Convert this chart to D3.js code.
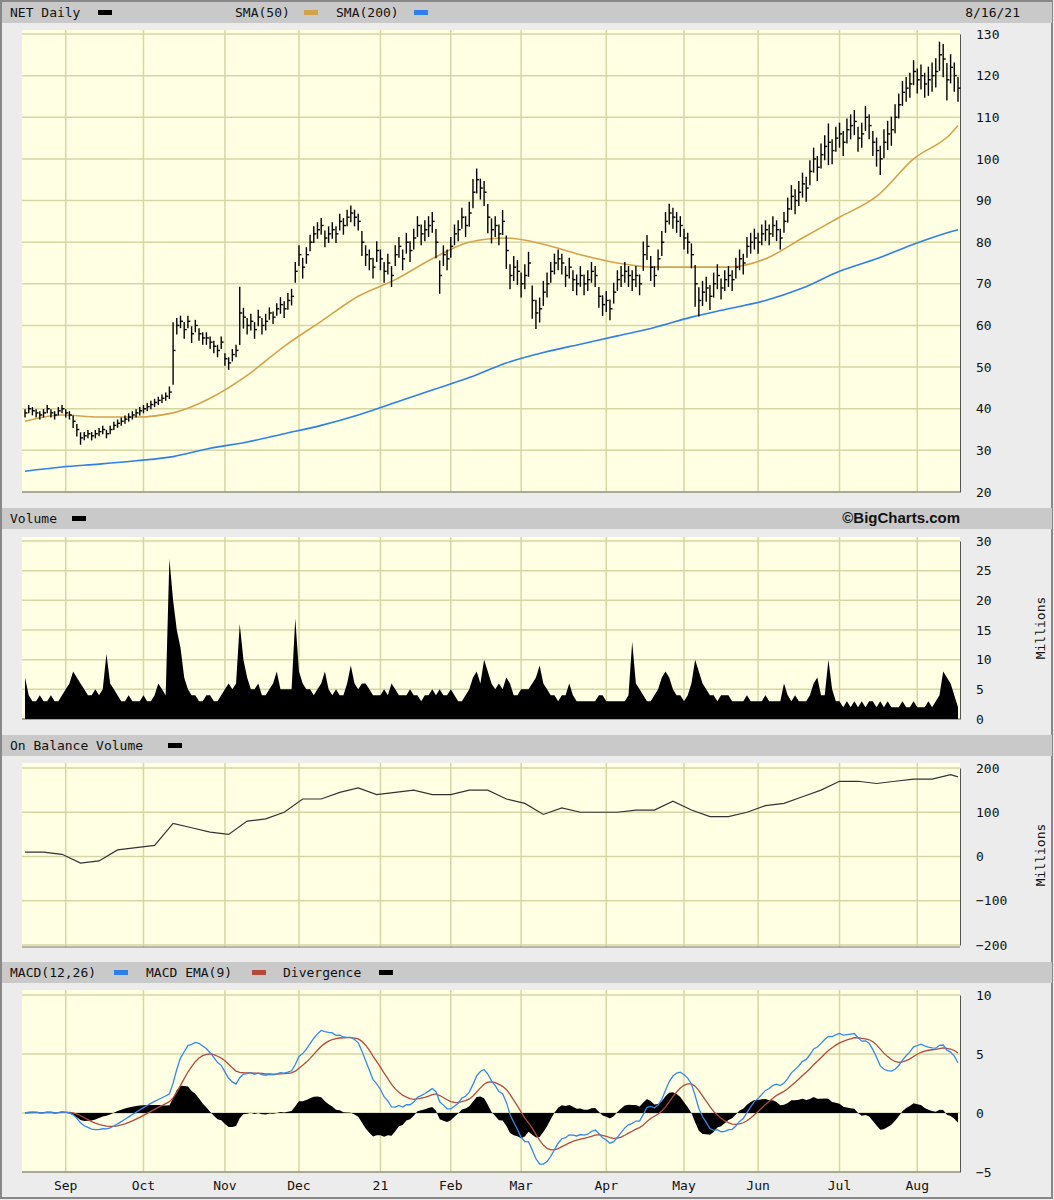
<!DOCTYPE html>
<html><head><meta charset="utf-8">
<script src="https://cdn.jsdelivr.net/npm/d3@7"></script>
<style>body{margin:0;background:#fff}text{font-family:"DejaVu Sans Mono",monospace;font-size:13px;fill:#111}</style>
</head><body><svg id="c" width="1054" height="1200"></svg>
<script>
const closes=[39,40,39.5,39,38.5,39,40,39,38.5,39.5,
40,39,38.5,37,35,33,33.5,34,33.5,34,
34.5,35,34,35,36,36.5,37,37.5,38,38.5,
39,39.5,40,40.5,41,41.5,42,42.5,43,44,
54,60,61,59,61,58,60,58,57,57,
56,55,54,56,52,51,53,54,63,62,
60,61,59,62,60,61,63,62,64,65,
64,66,67,73,77,74,77,80,82,83,
84,81,82,83,82,85,84,86,87,86,
85,80,77,76,74,78,76,73,75,72,
77,79,76,80,78,81,84,82,83,84,
85,80,72,77,76,79,82,83,86,84,
87,92,95,93,92,86,83,84,82,85,
78,72,74,73,70,72,75,66,63,64,
68,70,73,75,76,75,72,74,71,70,
72,70,71,73,72,67,65,66,64,68,
71,72,73,72,71,72,70,77,79,74,
72,76,80,85,87,86,85,84,81,80,
77,70,66,68,69,67,70,72,69,71,
72,71,74,76,75,79,80,81,80,82,
83,82,84,83,81,85,88,91,90,92,
94,93,97,100,98,101,103,104,102,105,
106,104,107,108,109,105,106,110,108,104,
102,100,104,106,107,110,113,116,117,118,
121,119,120,118,119,120,121,125,124,119,
122,120,117];
const ranges=[2,2,2,2,2,2,2,2,2,2, 2,2,2,3,3,3,2,2,2,2, 2,2,2,2,2,2,2,2,2,2, 2,2,2,2,2,2,2,2,2,3,
15,4,3,4,3,4,3,3,3,3, 3,3,3,3,3,3,3,3,14,5, 4,4,4,4,4,4,3,3,3,4, 4,4,4,5,5,5,4,4,4,4,
4,4,4,4,4,4,4,4,4,4, 4,6,5,5,5,5,5,5,5,5, 5,5,5,5,5,5,5,5,5,5, 5,7,8,5,5,5,5,5,5,5,
6,7,6,5,6,7,6,5,5,6, 8,6,6,6,6,6,6,8,7,6, 6,6,5,5,5,5,5,5,5,5, 5,5,5,5,5,5,5,5,5,5,
5,5,5,5,5,5,5,7,6,6, 5,5,6,5,5,5,5,5,5,5, 6,10,7,6,6,6,6,6,5,5, 5,5,5,5,5,5,5,5,5,5,
5,5,5,5,5,5,6,6,6,6, 6,6,6,6,6,6,6,10,6,6, 6,6,6,6,6,6,6,6,6,6, 7,7,7,7,7,7,6,6,6,6,
6,6,6,6,7,7,7,7,8,9, 7,7,6];
const volumes=[7,4,3,3,4,3,3,4,3,3, 4,5,6,8,7,6,5,4,4,5, 4,5,11,6,5,4,3,3,4,3, 3,3,4,3,3,4,6,5,4,27,
20,15,12,7,5,4,4,3,3,4, 4,3,3,4,5,6,5,6,16,10, 7,5,5,6,4,4,5,6,8,5, 5,5,5,17,8,6,5,5,4,5,
6,8,5,4,5,4,4,6,9,6, 5,6,6,5,4,4,4,5,4,6, 5,4,4,4,5,4,4,3,4,4, 5,4,5,4,4,5,4,3,3,4,
5,7,8,6,10,8,6,5,6,5, 7,6,4,4,5,5,5,6,7,9, 6,5,4,4,3,4,4,6,4,3, 3,3,3,3,3,4,4,3,3,3,
3,3,3,4,13,6,5,4,3,3, 4,5,7,8,7,5,4,4,3,4, 6,10,8,6,5,4,4,3,4,4, 4,3,3,3,3,4,3,3,3,3,
4,3,3,3,3,6,4,3,4,3, 3,3,4,6,7,4,4,10,5,3, 3,2,3,2,3,2,3,2,3,3, 2,3,2,3,2,2,2,3,2,2,
3,2,2,2,3,2,3,4,8,7, 6,4,2];
// sampled every 5 trading days (last = final day)
const obv=[10,10,5,-15,-10,15,20,25,75,65,55,50,80,85,100,130,130,145,155,140,145,150,140,140,150,150,130,120,95,110,100,100,100,105,105,125,105,90,90,100,115,120,135,150,170,170,165,170,175,175,185,180];
// sampled every 10 trading days (last = final day)
const sma50=[37,38.5,38,38,39,42.5,48,55,61,67,71,76,80,81,79.5,77,75,74,74,74,76,81,86,91,100,106,108];
const sma200=[25,26,26.7,27.5,28.5,30.5,32,34,36,38.5,41.5,44.5,47.5,51,53.5,55.5,57.5,59.5,62,64,66,69,73,76,79.5,82.5,83];
const priceTicks=[20,30,40,50,60,70,80,90,100,110,120,130];
const volTicks=[0,5,10,15,20,25,30];
const obvTicks=[-200,-100,0,100,200];
const macdTicks=[-5,0,5,10];
const monthNames=["21","Feb","Mar","Apr","May","Jun","Jul","Aug","Sep","Oct","Nov","Dec"];
const holidays=["2020-09-07","2020-11-26","2020-12-25","2021-01-01","2021-01-18","2021-02-15","2021-04-02","2021-05-31","2021-07-05"];

const days=[];
for(let d=new Date(Date.UTC(2020,7,17));d<=new Date(Date.UTC(2021,7,16));d=new Date(d.getTime()+864e5)){
  const wd=d.getUTCDay(); const s=d.toISOString().slice(0,10);
  if(wd===0||wd===6||holidays.includes(s))continue; days.push(d);
}
const N=closes.length;
const svg=d3.select("#c");
const L=22,R=960;
const x=d3.scaleLinear().domain([0,N-1]).range([25,958]);
const months=[];
days.forEach((d,i)=>{if(i>0&&d.getUTCMonth()!==days[i-1].getUTCMonth())months.push({i,m:d.getUTCMonth()});});

svg.append("rect").attr("x",0).attr("y",0).attr("width",1054).attr("height",1200).attr("fill","#ececec");
svg.append("rect").attr("x",1).attr("y",1).attr("width",1051).attr("height",1197).attr("fill","none").attr("stroke","#888").attr("stroke-width",2);

function header(y,items){
  svg.append("rect").attr("x",2).attr("y",y).attr("width",1050).attr("height",21).attr("fill","#c9c9c9");
  items.forEach(it=>{
    svg.append("text").attr("x",it.x).attr("y",y+15).text(it.t);
    svg.append("rect").attr("x",it.sx).attr("y",y+8).attr("width",14).attr("height",5).attr("fill",it.c);
  });
}
function panel(y0,y1,scale,ticks,unit){
  svg.append("rect").attr("x",L).attr("y",y0).attr("width",R-L).attr("height",y1-y0).attr("fill","#ffffe3");
  const g=svg.append("g");
  ticks.forEach(t=>{g.append("line").attr("x1",L).attr("x2",R).attr("y1",scale(t)).attr("y2",scale(t)).attr("stroke","#d6d6a4").attr("stroke-width",1.5);});
  months.forEach(m=>{g.append("line").attr("x1",x(m.i)).attr("x2",x(m.i)).attr("y1",y0).attr("y2",y1).attr("stroke","#d6d6a4").attr("stroke-width",1.5);});
  const ax=svg.append("g").attr("transform",`translate(${R},0)`).call(d3.axisRight(scale).tickValues(ticks).tickSize(0).tickPadding(16));
  ax.select(".domain").attr("stroke","#555");
  ax.selectAll("text").style("font-family","DejaVu Sans Mono").style("font-size","13px").attr("fill","#111");
  svg.append("line").attr("x1",L).attr("x2",R).attr("y1",y1).attr("y2",y1).attr("stroke","#777");
  if(unit)svg.append("text").attr("transform",`translate(1045,${(y0+y1)/2}) rotate(-90)`).attr("text-anchor","middle").text(unit);
}
header(2,[{t:"NET Daily",x:10,sx:98,c:"#000"},{t:"SMA(50)",x:235,sx:304,c:"#d4a24c"},{t:"SMA(200)",x:336,sx:414,c:"#2f7fea"}]);
svg.append("text").attr("x",1020).attr("y",17).attr("text-anchor","end").text("8/16/21");
const yP=d3.scaleLinear().domain([20,130]).range([492,34]);
panel(30,492,yP,priceTicks);
const sline=(arr,step,col,sc)=>{
  const pts=arr.map((v,k)=>[Math.min(k*step,N-1),v]);
  svg.append("path").attr("d",d3.line().x(p=>x(p[0])).y(p=>sc(p[1])).curve(d3.curveMonotoneX)(pts)).attr("fill","none").attr("stroke",col).attr("stroke-width",1.6);
};
sline(sma50,10,"#d4a24c",yP);
sline(sma200,10,"#2f7fea",yP);
const bars=svg.append("g").attr("stroke","#000").attr("stroke-width",1.4);
closes.forEach((c,i)=>{
  const r=ranges[i],hi=c+r*0.45,lo=c-r*0.55;
  bars.append("line").attr("x1",x(i)).attr("x2",x(i)).attr("y1",yP(hi)).attr("y2",yP(lo));
  bars.append("line").attr("x1",x(i)).attr("x2",x(i)+2.5).attr("y1",yP(c)).attr("y2",yP(c));
});
header(508,[{t:"Volume",x:10,sx:72,c:"#000"}]);
svg.append("text").attr("x",960).attr("y",523).attr("text-anchor","end").style("font-family","Liberation Sans,Arial").style("font-weight","bold").style("font-size","15px").attr("fill","#8a8a8a").text("©BigCharts.com");
const yV=d3.scaleLinear().domain([0,30]).range([719,541]);
panel(537,719,yV,volTicks,"Millions");
svg.append("path").attr("d",d3.area().x((d,i)=>x(i)).y0(yV(0)).y1(d=>yV(d))(volumes)).attr("fill","#000");
header(735,[{t:"On Balance Volume",x:10,sx:168,c:"#000"}]);
const yO=d3.scaleLinear().domain([-200,200]).range([945,768]);
panel(763,947,yO,obvTicks,"Millions");
svg.append("path").attr("d",d3.line().x(p=>x(p[0])).y(p=>yO(p[1]))(obv.map((v,k)=>[Math.min(k*5,N-1),v]))).attr("fill","none").attr("stroke","#333").attr("stroke-width",1.2);
header(962,[{t:"MACD(12,26)",x:10,sx:114,c:"#2f7fea"},{t:"MACD EMA(9)",x:146,sx:252,c:"#b5483c"},{t:"Divergence",x:283,sx:379,c:"#000"}]);
const yM=d3.scaleLinear().domain([-5,10]).range([1172,995]);
panel(990,1172,yM,macdTicks);
const ema=(a,n)=>{const k=2/(n+1);let e=a[0];return a.map(v=>e=v*k+e*(1-k));};
const e12=ema(closes,12),e26=ema(closes,26);
const macd=closes.map((c,i)=>e12[i]-e26[i]);
const sig=ema(macd,9);
const div=macd.map((m,i)=>m-sig[i]);
svg.append("path").attr("d",d3.area().x((d,i)=>x(i)).y0(yM(0)).y1(d=>yM(d))(div)).attr("fill","#000");
svg.append("path").attr("d",d3.line().x((d,i)=>x(i)).y(d=>yM(d))(sig)).attr("fill","none").attr("stroke","#b5483c").attr("stroke-width",1.3);
svg.append("path").attr("d",d3.line().x((d,i)=>x(i)).y(d=>yM(d))(macd)).attr("fill","none").attr("stroke","#3388ee").attr("stroke-width",1.3);
months.forEach(m=>{svg.append("text").attr("x",x(m.i)).attr("y",1190).attr("text-anchor","middle").text(monthNames[m.m]);});
</script></body></html>
